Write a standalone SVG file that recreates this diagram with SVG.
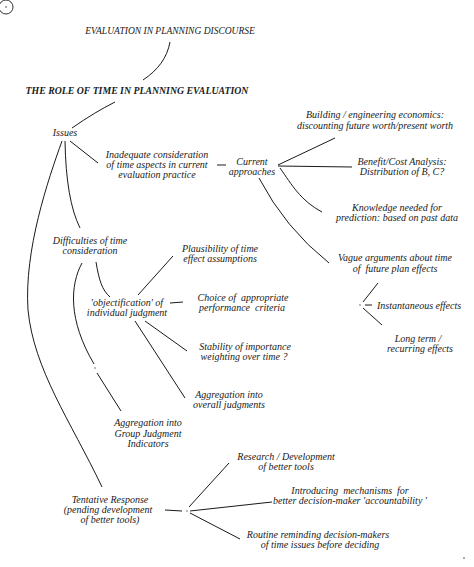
<svg xmlns="http://www.w3.org/2000/svg" width="474" height="567" viewBox="0 0 474 567">
<style>
text{font-family:'Liberation Serif','DejaVu Serif',serif;font-style:italic;font-size:10px;fill:#1a1a1a;text-anchor:middle}
.cap{font-size:9.5px}
.bold{font-weight:bold;font-size:9.8px}
.c path,.c line{fill:none;stroke:#1a1a1a;stroke-width:1}
.dot{fill:#444}
</style>
<rect width="474" height="567" fill="#fff"/>
<g id="corner"><circle cx="6" cy="7" r="7" fill="none" stroke="#333" stroke-width="1"/><circle cx="6" cy="7" r="0.8" class="dot"/></g>
<g class="c" id="connectors">
<path d="M170,42 C167,58 158,70 143,80"/>
<path d="M115,102 Q95,112 72,128"/>
<line x1="70" y1="141" x2="98" y2="163"/>
<path d="M65,141 Q66,200 80,228"/>
<path d="M62,141 C48,180 24,250 28,310 C34,370 70,420 102,487"/>
<line x1="217" y1="165" x2="226" y2="165"/>
<line x1="278" y1="165" x2="335" y2="138"/>
<line x1="278" y1="166" x2="352" y2="167"/>
<path d="M280,168 C292,185 300,200 322,212"/>
<path d="M259,178 Q285,228 329,263"/>
<line x1="363" y1="302" x2="378" y2="283"/>
<line x1="365" y1="305" x2="372" y2="305"/>
<line x1="363" y1="308" x2="382" y2="325"/>
<path d="M96,262 C99,280 102,290 110,297"/>
<path d="M82,263 C70,285 68,320 94,364"/>
<line x1="97" y1="373" x2="121" y2="411"/>
<line x1="138" y1="295" x2="173" y2="256"/>
<line x1="170" y1="303" x2="183" y2="302"/>
<line x1="145" y1="321" x2="187" y2="351"/>
<line x1="135" y1="321" x2="185" y2="398"/>
<line x1="165" y1="510" x2="182" y2="511"/>
<line x1="189" y1="507" x2="229" y2="463"/>
<line x1="190" y1="511" x2="272" y2="502"/>
<line x1="190" y1="513" x2="240" y2="539"/>
</g>
<circle cx="360" cy="305" r="0.7" class="dot"/>
<circle cx="95" cy="368" r="0.7" class="dot"/>
<circle cx="187" cy="511" r="0.7" class="dot"/>
<circle cx="464" cy="558" r="0.8" class="dot"/>
<g id="n-title1"><text class="cap" x="170" y="34">EVALUATION IN PLANNING DISCOURSE</text></g>
<g id="n-title2"><text class="bold" x="137" y="94">THE ROLE OF TIME IN PLANNING EVALUATION</text></g>
<g id="n-issues"><text x="65" y="136">Issues</text></g>
<g id="n-inadequate"><text x="157" y="158">Inadequate consideration</text><text x="157" y="168">of time aspects in current</text><text x="157" y="178">evaluation practice</text></g>
<g id="n-current"><text x="252" y="165">Current</text><text x="252" y="175">approaches</text></g>
<g id="n-building"><text x="375" y="118">Building / engineering economics:</text><text x="375" y="128.5">discounting future worth/present worth</text></g>
<g id="n-benefit"><text x="402" y="165">Benefit/Cost Analysis:</text><text x="402" y="175">Distribution of B, C?</text></g>
<g id="n-knowledge"><text x="397" y="211">Knowledge needed for</text><text x="397" y="221">prediction: based on past data</text></g>
<g id="n-vague"><text x="395" y="261">Vague arguments about time</text><text x="395" y="272" xml:space="preserve">of  future plan effects</text></g>
<g id="n-instant"><text x="419" y="309">Instantaneous effects</text></g>
<g id="n-longterm"><text x="418" y="342">Long term /</text><text x="420" y="352">recurring effects</text></g>
<g id="n-difficulties"><text x="90" y="244">Difficulties of time</text><text x="90" y="254">consideration</text></g>
<g id="n-objectification"><text x="127" y="306">'objectification' of</text><text x="127" y="316">individual judgment</text></g>
<g id="n-plausibility"><text x="220" y="251.5">Plausibility of time</text><text x="220" y="261.5">effect assumptions</text></g>
<g id="n-choice"><text x="243" y="301" xml:space="preserve">Choice of  appropriate</text><text x="242" y="311" xml:space="preserve">performance  criteria</text></g>
<g id="n-stability"><text x="245" y="350">Stability of importance</text><text x="244" y="360">weighting over time ?</text></g>
<g id="n-aggoverall"><text x="229" y="398">Aggregation into</text><text x="229" y="408">overall judgments</text></g>
<g id="n-agggroup"><text x="148" y="426">Aggregation into</text><text x="148" y="437">Group Judgment</text><text x="148" y="447">Indicators</text></g>
<g id="n-tentative"><text x="110" y="503">Tentative Response</text><text x="108" y="513">(pending development</text><text x="110" y="523">of better tools)</text></g>
<g id="n-research"><text x="286" y="460">Research / Development</text><text x="286" y="470">of better tools</text></g>
<g id="n-introducing"><text x="350" y="494" xml:space="preserve">Introducing  mechanisms  for</text><text x="350" y="504">better decision-maker 'accountability '</text></g>
<g id="n-routine"><text x="318" y="538">Routine reminding decision-makers</text><text x="320" y="548">of time issues before deciding</text></g>
</svg>
